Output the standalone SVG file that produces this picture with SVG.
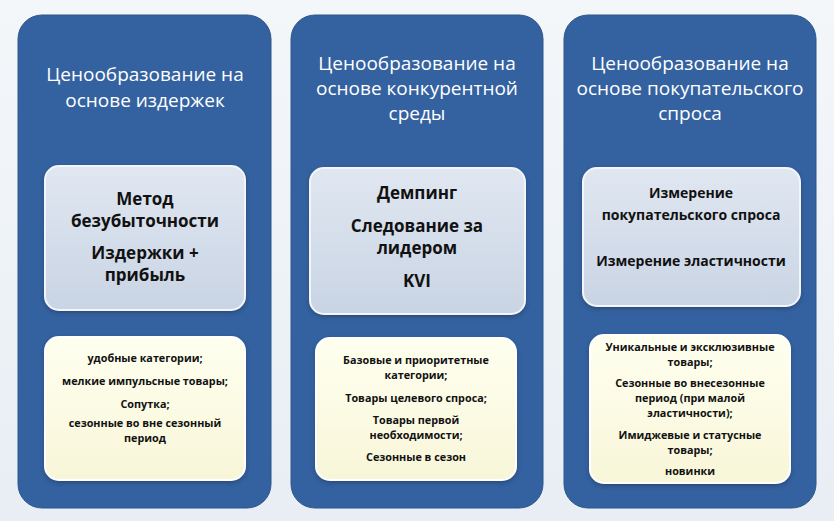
<svg xmlns="http://www.w3.org/2000/svg" width="834" height="521" viewBox="0 0 834 521">
<defs>
<linearGradient id="bg" x1="0" y1="0" x2="0" y2="1"><stop offset="0" stop-color="#f4f7fa"/><stop offset="1" stop-color="#e8eef4"/></linearGradient>
<linearGradient id="gb" x1="0" y1="0" x2="0" y2="1"><stop offset="0" stop-color="#e0e7f1"/><stop offset="1" stop-color="#c9d4e4"/></linearGradient>
<linearGradient id="gy" x1="0" y1="0" x2="0" y2="1"><stop offset="0" stop-color="#fffff0"/><stop offset="1" stop-color="#f8f6d8"/></linearGradient>
<filter id="sh" x="-10%" y="-10%" width="120%" height="120%"><feDropShadow dx="0" dy="2" stdDeviation="2" flood-color="#1a3050" flood-opacity="0.5"/></filter>
</defs>
<style>
.col{fill:#3462a0;stroke:#2d568d;stroke-width:1}
.inb{fill:url(#gb);stroke:#f2f5fa;stroke-width:2;filter:url(#sh)}
.iny{fill:url(#gy);stroke:#ffffff;stroke-width:2;filter:url(#sh)}
.t{font-family:"Open Sans","Noto Sans",sans-serif;fill:#fff;font-size:19px;text-anchor:middle}
.b{font-family:"Open Sans","Noto Sans",sans-serif;font-weight:bold;fill:#111;font-size:17px;text-anchor:middle}
.s{font-family:"Open Sans","Noto Sans",sans-serif;font-weight:bold;fill:#111;font-size:10.8px;text-anchor:middle}
</style>
<rect width="834" height="521" fill="url(#bg)"/>
<g id="col1">
<rect class="col" x="18" y="15" width="253" height="493" rx="24"/>
<text class="t" x="145" y="81">Ценообразование на</text>
<text class="t" x="145" y="107">основе издержек</text>
<rect class="inb" x="45" y="166" width="200" height="144" rx="14"/>
<text class="b" x="145" y="205">Метод</text>
<text class="b" x="145" y="227">безубыточности</text>
<text class="b" x="145" y="259">Издержки +</text>
<text class="b" x="145" y="281">прибыль</text>
<rect class="iny" x="45" y="337" width="200" height="143" rx="14"/>
<text class="s" x="145" y="362">удобные категории;</text>
<text class="s" x="145" y="385">мелкие импульсные товары;</text>
<text class="s" x="145" y="408">Сопутка;</text>
<text class="s" x="145" y="427">сезонные во вне сезонный</text>
<text class="s" x="145" y="442">период</text>
</g>
<g id="col2">
<rect class="col" x="291" y="15" width="252" height="493" rx="24"/>
<text class="t" x="417" y="70">Ценообразование на</text>
<text class="t" x="417" y="95">основе конкурентной</text>
<text class="t" x="417" y="120">среды</text>
<rect class="inb" x="310" y="168" width="215" height="146" rx="14"/>
<text class="b" x="417" y="199">Демпинг</text>
<text class="b" x="417" y="232">Следование за</text>
<text class="b" x="417" y="254">лидером</text>
<text class="b" x="417" y="287">KVI</text>
<rect class="iny" x="316" y="338" width="200" height="142" rx="14"/>
<text class="s" x="416" y="364">Базовые и приоритетные</text>
<text class="s" x="416" y="379">категории;</text>
<text class="s" x="416" y="402">Товары целевого спроса;</text>
<text class="s" x="416" y="424">Товары первой</text>
<text class="s" x="416" y="439">необходимости;</text>
<text class="s" x="416" y="461">Сезонные в сезон</text>
</g>
<g id="col3">
<rect class="col" x="564" y="15" width="252" height="493" rx="24"/>
<text class="t" x="690" y="70">Ценообразование на</text>
<text class="t" x="690" y="95">основе покупательского</text>
<text class="t" x="690" y="120">спроса</text>
<rect class="inb" x="583" y="168" width="217" height="138" rx="14"/>
<text class="s" style="font-size:14px" x="691" y="198">Измерение</text>
<text class="s" style="font-size:14px" x="691" y="220">покупательского спроса</text>
<text class="s" style="font-size:14px" x="691" y="266">Измерение эластичности</text>
<rect class="iny" x="590" y="335" width="200" height="148" rx="14"/>
<text class="s" x="690" y="351">Уникальные и эксклюзивные</text>
<text class="s" x="690" y="366">товары;</text>
<text class="s" x="690" y="387">Сезонные во внесезонные</text>
<text class="s" x="690" y="402">период (при малой</text>
<text class="s" x="690" y="417">эластичности);</text>
<text class="s" x="690" y="439">Имиджевые и статусные</text>
<text class="s" x="690" y="454">товары;</text>
<text class="s" x="690" y="475">новинки</text>
</g>
<g id="connectors"/>
</svg>
